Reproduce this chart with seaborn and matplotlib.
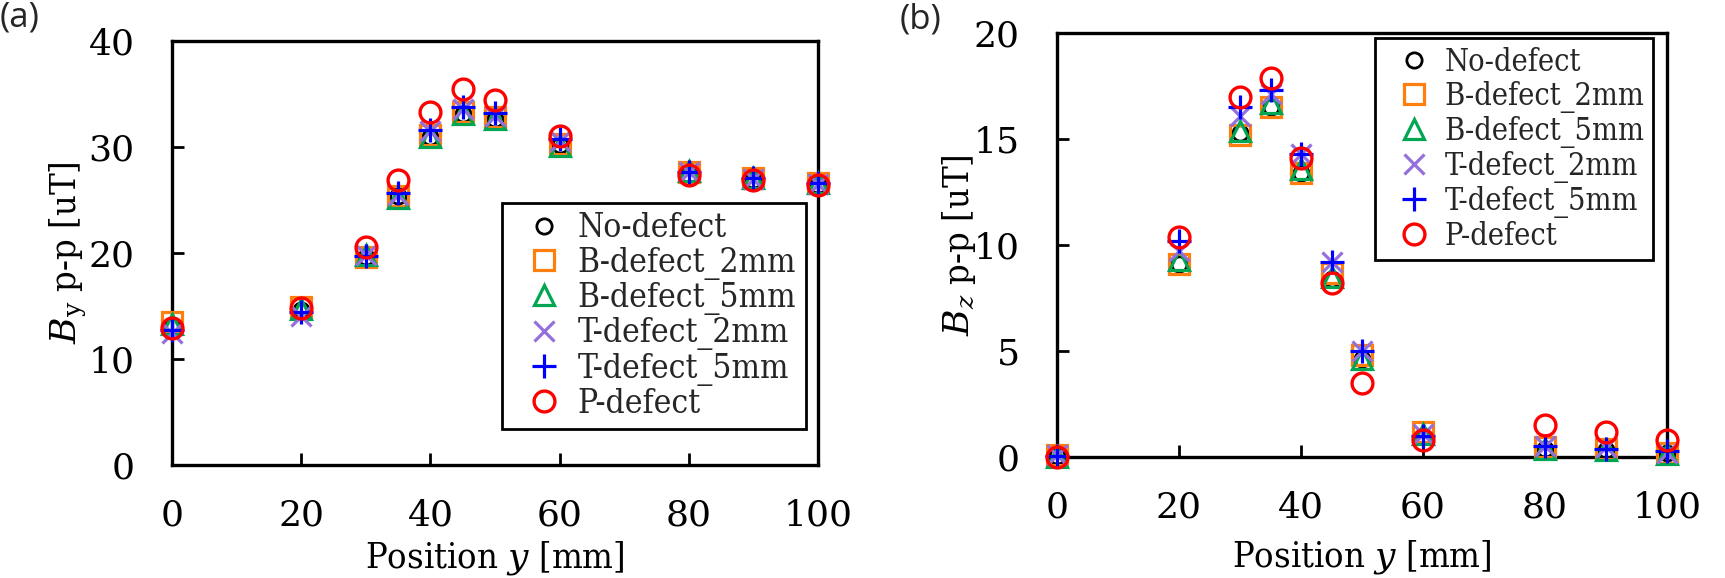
import numpy as np
import pandas as pd
import matplotlib
matplotlib.use("Agg")
import matplotlib.pyplot as plt
import seaborn as sns

# ---------------- data ----------------
positions = [0, 20, 30, 35, 40, 45, 50, 60, 80, 90, 100]
series_names = ["No-defect", "B-defect_2mm", "B-defect_5mm",
                "T-defect_2mm", "T-defect_5mm", "P-defect"]

# panel (a): By p-p [uT]
by_no_defect = [13.2, 14.6, 19.6, 25.4, 30.9, 33.1, 32.6, 30.2, 27.4, 26.9, 26.4]
by_b_defect_2mm = [13.5, 14.9, 19.6, 25.4, 31.1, 33.3, 32.8, 30.3, 27.6, 27.1, 26.6]
by_b_defect_5mm = [13.3, 14.7, 19.8, 25.2, 30.9, 33.1, 32.6, 30.1, 27.7, 27.1, 26.6]
by_t_defect_2mm = [12.5, 14.1, 19.8, 25.5, 31.5, 33.6, 32.9, 30.6, 27.6, 27.0, 26.5]
by_t_defect_5mm = [12.7, 14.4, 19.7, 25.7, 31.6, 33.8, 33.2, 30.8, 27.6, 27.1, 26.6]
by_p_defect = [12.9, 14.8, 20.6, 26.9, 33.3, 35.5, 34.4, 31.0, 27.4, 26.9, 26.4]

# panel (b): Bz p-p [uT]
bz_no_defect = [0.05, 9.1, 15.3, 16.5, 13.4, 8.4, 4.6, 1.0, 0.40, 0.35, 0.20]
bz_b_defect_2mm = [0.10, 9.1, 15.2, 16.5, 13.4, 8.7, 4.8, 1.2, 0.45, 0.40, 0.20]
bz_b_defect_5mm = [0.00, 9.3, 15.4, 16.7, 13.6, 8.5, 4.6, 1.1, 0.40, 0.35, 0.15]
bz_t_defect_2mm = [0.10, 9.7, 16.1, 17.1, 14.3, 9.2, 5.0, 1.1, 0.50, 0.45, 0.20]
bz_t_defect_5mm = [0.05, 10.2, 16.5, 17.3, 14.3, 9.2, 5.0, 1.0, 0.50, 0.40, 0.30]
bz_p_defect = [0.00, 10.4, 17.0, 17.9, 14.1, 8.2, 3.5, 0.8, 1.50, 1.20, 0.80]

x_ticks = [0, 20, 40, 60, 80, 100]
ya_ticks = [0, 10, 20, 30, 40]
yb_ticks = [0, 5, 10, 15, 20]

# ---------------- style ----------------
sns.set_theme(style="white")
plt.rcParams["font.family"] = ["DejaVu Serif"]
plt.rcParams["mathtext.fontset"] = "dejavuserif"
plt.rcParams["axes.edgecolor"] = "black"

styles = {
    "No-defect":    dict(marker="o", color="black",   ms=11, mew=2.0),
    "B-defect_2mm": dict(marker="s", color="#FF7F0E", ms=14, mew=2.3),
    "B-defect_5mm": dict(marker="^", color="#00A651", ms=15, mew=2.3),
    "T-defect_2mm": dict(marker="x", color="#9370DB", ms=15, mew=2.3),
    "T-defect_5mm": dict(marker="+", color="#0000FF", ms=17, mew=2.3),
    "P-defect":     dict(marker="o", color="#FF0000", ms=15, mew=2.4),
}

fig = plt.figure(figsize=(17.25, 5.78), dpi=100)
W, H = 1725, 578
ax_a = fig.add_axes([172 / W, 1 - 465 / H, 646 / W, 424 / H])
ax_b = fig.add_axes([1057 / W, 1 - 457 / H, 610 / W, 424 / H])

data_a = dict(zip(series_names, [by_no_defect, by_b_defect_2mm, by_b_defect_5mm,
                                 by_t_defect_2mm, by_t_defect_5mm, by_p_defect]))
data_b = dict(zip(series_names, [bz_no_defect, bz_b_defect_2mm, bz_b_defect_5mm,
                                 bz_t_defect_2mm, bz_t_defect_5mm, bz_p_defect]))


def draw(ax, data, ylim, yticks, ylabel, leg_anchor, leg_size, lab_space, xlab_y):
    for name in series_names:
        st = styles[name]
        df = pd.DataFrame({"pos": positions, "val": data[name]})
        sns.lineplot(data=df, x="pos", y="val", ax=ax, marker=st["marker"],
                     linestyle="", color=st["color"], markersize=st["ms"],
                     markeredgewidth=st["mew"], markerfacecolor="none",
                     markeredgecolor=st["color"], clip_on=False, zorder=3,
                     label=name, errorbar=None)
    ax.set_xlim(0, 100)
    ax.set_ylim(*ylim)
    ax.set_xticks(x_ticks)
    ax.set_yticks(yticks)
    ax.tick_params(axis="both", direction="in", length=8.5, width=2,
                   labelsize=26, pad=27, bottom=True, left=True,
                   top=False, right=False, colors="black")
    ax.tick_params(axis="x", pad=24)
    for sp in ax.spines.values():
        sp.set_visible(True)
        sp.set_color("black")
        sp.set_linewidth(2.4)
    ax.set_ylabel(ylabel, fontsize=26, color="black", fontstretch="condensed")
    ax.set_xlabel("Position $y$ [mm]", fontsize=26, color="black",
                  fontstretch="condensed")
    ax.yaxis.set_label_coords(-0.13, 0.5)
    ax.xaxis.set_label_coords(0.5, xlab_y)
    leg = ax.legend(loc="upper right", bbox_to_anchor=leg_anchor,
                    borderaxespad=0, frameon=True, fancybox=False,
                    prop=dict(family="DejaVu Serif", stretch="condensed",
                              size=leg_size),
                    framealpha=1, edgecolor="black", labelspacing=lab_space,
                    handlelength=2.0, handletextpad=0.0, borderpad=0.28,
                    numpoints=1)
    leg.get_frame().set_linewidth(2.0)


draw(ax_a, data_a, (0, 40), ya_ticks, r"$B_{\mathrm{y}}$ p-p [uT]",
     (0.981, 0.618), 24, 0.07, -0.175)
draw(ax_b, data_b, (0, 20), yb_ticks, r"$B_{z}$ p-p [uT]",
     (0.977, 0.988), 22, 0.10, -0.192)

fig.text(0.0, 1 - 18 / H, "(a)", fontsize=25, family=["Open Sans", "DejaVu Sans"],
         fontstretch="normal", ha="left", va="center")
fig.text(900 / W, 1 - 19 / H, "(b)", fontsize=25, family=["Open Sans", "DejaVu Sans"],
         fontstretch="normal", ha="left", va="center")

fig.savefig("out.png", dpi=100)
